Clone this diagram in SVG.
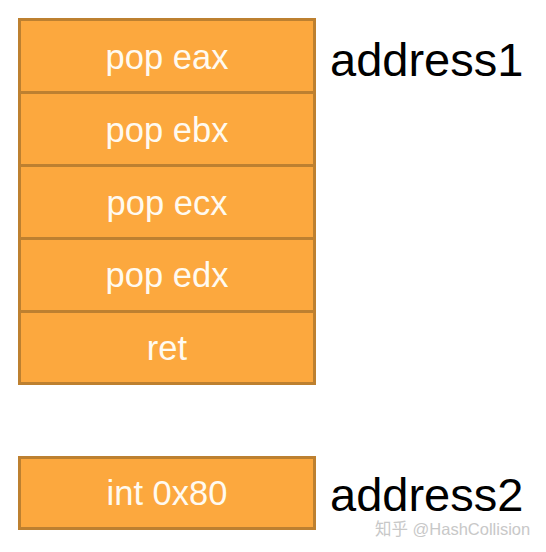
<svg xmlns="http://www.w3.org/2000/svg" width="546" height="552" viewBox="0 0 546 552">
<style>
.cell{fill:#fca83e;stroke:#bd8030;stroke-width:3}
.t{font-family:"Liberation Sans",Arial,sans-serif;font-size:34.5px;fill:#fffaf0;text-anchor:middle}
.a{font-family:"Liberation Sans",Arial,sans-serif;font-size:47px;fill:#000}
.w{font-family:"Liberation Sans","Noto Sans CJK SC",sans-serif;font-size:16.5px;fill:#c8c8c8}
</style>
<rect width="546" height="552" fill="#fff"/>
<g id="n1"><rect class="cell" x="19.5" y="19.5" width="295" height="73"/><text class="t" x="167" y="69">pop eax</text></g>
<g id="n2"><rect class="cell" x="19.5" y="92.5" width="295" height="73"/><text class="t" x="167" y="142">pop ebx</text></g>
<g id="n3"><rect class="cell" x="19.5" y="165.5" width="295" height="73"/><text class="t" x="167" y="215">pop ecx</text></g>
<g id="n4"><rect class="cell" x="19.5" y="238.5" width="295" height="73"/><text class="t" x="167" y="287">pop edx</text></g>
<g id="n5"><rect class="cell" x="19.5" y="311.5" width="295" height="72"/><text class="t" x="167" y="360">ret</text></g>
<g id="n6"><rect class="cell" x="19.5" y="457.5" width="295" height="71"/><text class="t" x="167" y="505">int 0x80</text></g>
<g id="labels">
<text class="a" x="330" y="76">address1</text>
<text class="a" x="330" y="511">address2</text>
<text class="w" x="375" y="535">知乎 @HashCollision</text>
</g>
<g id="connectors"/>
</svg>
